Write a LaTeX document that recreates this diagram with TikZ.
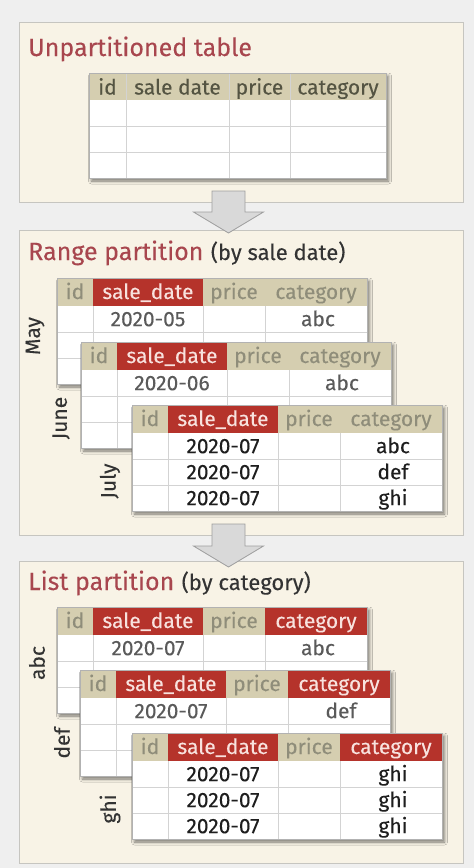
\documentclass[tikz,border=0pt]{standalone}
\usepackage{fontspec}
\setmainfont{Fira Sans}[FakeBold=0.15]
\usetikzlibrary{shadows.blur,calc}
\definecolor{bgc}{HTML}{EFEFEF}
\definecolor{panelc}{HTML}{F8F3E6}
\definecolor{panelline}{HTML}{C6C5C0}
\definecolor{tanc}{HTML}{D5CEB0}
\definecolor{hlc}{HTML}{B5332B}
\definecolor{hltxt}{HTML}{F8E2DE}
\definecolor{titlered}{HTML}{A8464E}
\definecolor{gridc}{HTML}{D3D3D3}
\definecolor{hdrgrey}{HTML}{8F8D7A}
\definecolor{hdrdark}{HTML}{545442}
\definecolor{backtxt}{HTML}{5A5A5A}
\definecolor{fronttxt}{HTML}{1E1E1E}
\definecolor{labtxt}{HTML}{333333}
\definecolor{arrowfill}{HTML}{D9D9D9}
\definecolor{arrowline}{HTML}{9E9E9E}
\newcommand{\hfont}{\fontsize{21}{24}\selectfont}
\newcommand{\bfont}{\fontsize{21}{24}\selectfont}
\tikzset{
  panelbox/.style={draw=panelline, fill=panelc, line width=1pt, inner sep=0pt, anchor=north west},
  titletxt/.style={anchor=base west, inner sep=0pt, text=titlered, font=\fontsize{25}{30}\selectfont},
  subtxt/.style={text=labtxt, font=\fontsize{22}{26}\selectfont},
  hcell/.style={inner sep=0pt, minimum height=28, text=hdrgrey, font=\hfont, text height=17pt, text depth=3pt},
  hcelldark/.style={hcell, minimum height=27, text=hdrdark},
  hlcell/.style={fill=hlc, text=hltxt},
  btxt/.style={inner sep=0pt, font=\bfont, text height=17pt, text depth=3pt},
  backrow/.style={text=backtxt},
  frontrow/.style={text=fronttxt},
  gridln/.style={draw=gridc, line width=0.8pt},
  tblborder/.style={draw=black!30, line width=0.6pt},
  tblshadow/.style={blur shadow={shadow xshift=2.5pt, shadow yshift=-3pt, shadow blur radius=3pt, shadow opacity=50}},
  sidelbl/.style={rotate=90, inner sep=0pt, text=labtxt, font=\fontsize{21}{24}\selectfont},
  barrow/.style={fill=arrowfill, draw=arrowline, line width=0.8pt, line join=miter}
}
% partition table: #1 name, #2 x, #3 y, #4 sale_date header style, #5 category header style
\newcommand{\ptable}[5]{%
\begin{scope}[shift={(#2,#3)}]
  \fill[white,tblshadow] (0,0) rectangle (310,106);
  \fill[tanc] (0,0) rectangle (310,28);
  \node[hcell,minimum width=36] (#1-h1) at (18,14) {id};
  \node[hcell,#4,minimum width=110] (#1-h2) at (91,14) {sale\_date};
  \node[hcell,minimum width=62] (#1-h3) at (177,14) {price};
  \node[hcell,#5,minimum width=102] (#1-h4) at (259,14) {category};
  \draw[gridln] (36,28) -- (36,106) (146,28) -- (146,106) (208,28) -- (208,106)
                (0,54) -- (310,54) (0,80) -- (310,80);
  \draw[tblborder] (0,0) rectangle (310,106);
\end{scope}}
% row: #1 table name, #2 row index, #3 date, #4 category, #5 style
\newcommand{\prow}[5]{%
  \node[btxt,#5] (#1-d#2) at ($(#1-h2.south)+(0,{13+26*(#2-1)})$) {#3};
  \node[btxt,#5] (#1-c#2) at ($(#1-h4.south)+(2,{13+26*(#2-1)})$) {#4};}
\begin{document}
\begin{tikzpicture}[x=1pt,y=-1pt]
\fill[bgc] (0,0) rectangle (474,868);
\useasboundingbox (0,0) rectangle (474,868);
% panels
\node[panelbox, minimum width=444, minimum height=180] (p1) at (19,22) {};
\node[panelbox, minimum width=444, minimum height=305] (p2) at (19,230) {};
\node[panelbox, minimum width=444, minimum height=302] (p3) at (19,561) {};
% titles
\node[titletxt] (t1) at (28,56) {Unpartitioned table};
\node[titletxt] (t2) at (28,260) {Range partition};
\node[subtxt, anchor=base west, inner sep=0pt] (t2b) at ($(t2.base east)+(7,0)$) {(by sale date)};
\node[titletxt] (t3) at (28,590) {List partition};
\node[subtxt, anchor=base west, inner sep=0pt] (t3b) at ($(t3.base east)+(7,0)$) {(by category)};
% unpartitioned table
\begin{scope}[shift={(89,73)}]
  \fill[white,tblshadow] (0,0) rectangle (297,105);
  \fill[tanc] (0,0) rectangle (297,27);
  \node[hcelldark,minimum width=37] (u-h1) at (18.5,14.5) {id};
  \node[hcelldark,minimum width=103] (u-h2) at (88.5,14.5) {sale date};
  \node[hcelldark,minimum width=61] (u-h3) at (170.5,14.5) {price};
  \node[hcelldark,minimum width=96] (u-h4) at (249,14.5) {category};
  \draw[gridln] (37,0) -- (37,105) (140,0) -- (140,105) (201,0) -- (201,105)
                (0,53) -- (297,53) (0,79) -- (297,79);
  \draw[tblborder] (0,0) rectangle (297,105);
\end{scope}
% range partition
\ptable{may}{57}{278}{hlcell}{}
\prow{may}{1}{2020-05}{abc}{backrow}
\ptable{jun}{81}{342}{hlcell}{}
\prow{jun}{1}{2020-06}{abc}{backrow}
\ptable{jul}{132}{405}{hlcell}{}
\prow{jul}{1}{2020-07}{abc}{frontrow}
\prow{jul}{2}{2020-07}{def}{frontrow}
\prow{jul}{3}{2020-07}{ghi}{frontrow}
\node[sidelbl] (l-may) at (35,336) {May};
\node[sidelbl] (l-jun) at (61,418) {June};
\node[sidelbl] (l-jul) at (110,481) {July};
% list partition
\ptable{abc}{57}{607}{hlcell}{hlcell}
\prow{abc}{1}{2020-07}{abc}{backrow}
\ptable{def}{80}{670}{hlcell}{hlcell}
\prow{def}{1}{2020-07}{def}{backrow}
\ptable{ghi}{132}{733}{hlcell}{hlcell}
\prow{ghi}{1}{2020-07}{ghi}{frontrow}
\prow{ghi}{2}{2020-07}{ghi}{frontrow}
\prow{ghi}{3}{2020-07}{ghi}{frontrow}
\node[sidelbl] (l-abc) at (37,663) {abc};
\node[sidelbl] (l-def) at (62,743) {def};
\node[sidelbl] (l-ghi) at (110,809) {ghi};
% block arrows
\coordinate (a1top) at ($(p1.south)+(-13,-12)$);
\coordinate (a1tip) at ($(p2.north)+(-13,3)$);
\draw[barrow] ($(a1top)+(-16.5,0)$) -- ($(a1top)+(16.5,0)$) -- ($(a1tip)+(16.5,-21)$) -- ($(a1tip)+(35,-21)$) -- (a1tip) -- ($(a1tip)+(-35,-21)$) -- ($(a1tip)+(-16.5,-21)$) -- cycle;
\coordinate (a2top) at ($(p2.south)+(-13,-12)$);
\coordinate (a2tip) at ($(p3.north)+(-13,6)$);
\draw[barrow] ($(a2top)+(-16.5,0)$) -- ($(a2top)+(16.5,0)$) -- ($(a2tip)+(16.5,-21)$) -- ($(a2tip)+(35,-21)$) -- (a2tip) -- ($(a2tip)+(-35,-21)$) -- ($(a2tip)+(-16.5,-21)$) -- cycle;
\end{tikzpicture}
\end{document}
